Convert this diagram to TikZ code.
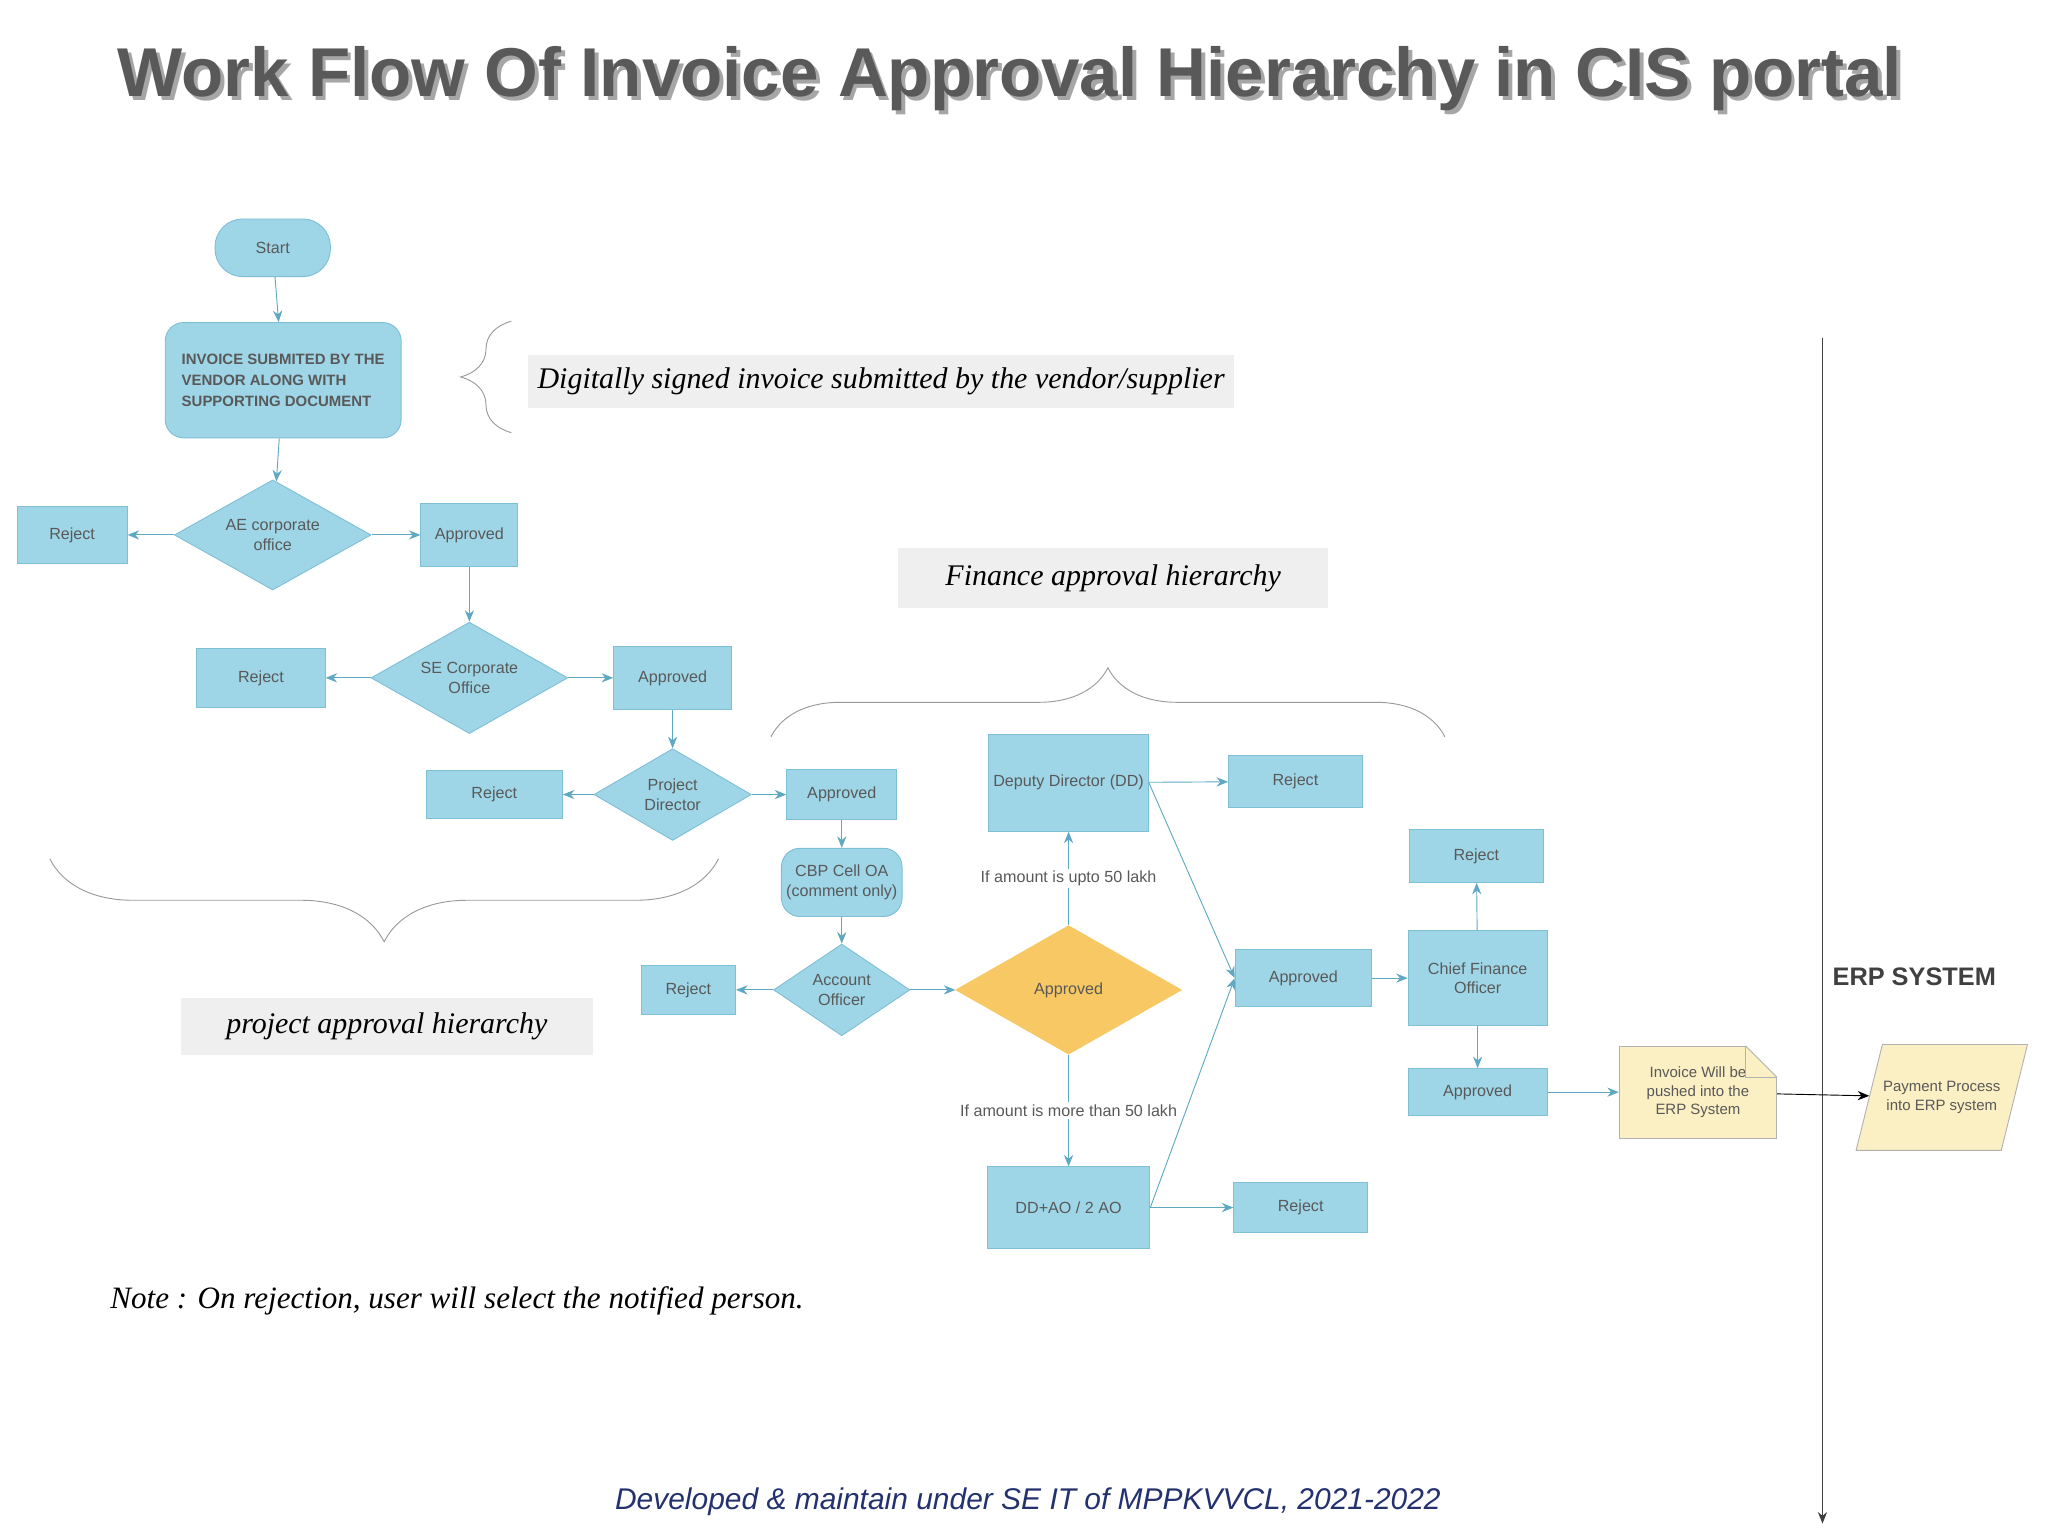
\documentclass[tikz,border=0pt]{standalone}
\usepackage{fontspec}
\setmainfont{Liberation Serif}
\newfontfamily\boxfont{Liberation Sans}
\usetikzlibrary{shapes.geometric,decorations.pathreplacing,arrows.meta,calc}
\definecolor{boxfill}{HTML}{9ED6E8}
\definecolor{boxline}{HTML}{7FBFD6}
\definecolor{arrowc}{HTML}{5FA8C2}
\definecolor{notefill}{HTML}{EFEFEF}
\definecolor{docfill}{HTML}{FBEFC4}
\definecolor{yelfill}{HTML}{F7C863}
\definecolor{footc}{HTML}{23326E}
\tikzset{>={Stealth[length=5pt,width=4pt]}}

\begin{document}
\begin{tikzpicture}[x=0.02cm,y=-0.02cm]

%% styles
\tikzstyle{box}=[draw=boxline, fill=boxfill, text=black!65, align=center, font=\boxfont\fontsize{7}{8.5}\selectfont, inner sep=2pt]
\tikzstyle{rbox}=[box, rounded corners=8pt]
\tikzstyle{dia}=[box, diamond, aspect=1.8, inner sep=1pt]
\tikzstyle{note}=[fill=notefill, font=\itshape\fontsize{13}{15}\selectfont, inner sep=4pt]
\tikzstyle{lbl}=[fill=white, font=\boxfont\fontsize{7}{8.5}\selectfont, text=black!65, inner sep=1pt]
\tikzstyle{flow}=[draw=arrowc, ->]
\tikzstyle{brc}=[draw=black!40, decorate, decoration={brace, amplitude=22pt}]

\useasboundingbox (0,0) rectangle (1562,1172);

%% title
\node[font=\boxfont\bfseries\fontsize{30}{32}\selectfont, text=black!35] at (773,63) {Work Flow Of Invoice Approval Hierarchy in CIS portal};
\node[font=\boxfont\bfseries\fontsize{30}{32}\selectfont, text=black!65] at (770,60) {Work Flow Of Invoice Approval Hierarchy in CIS portal};

%% project part
\node(S)[rbox, rounded corners=12pt, minimum width=1.76cm, minimum height=0.88cm] at (208,189) {Start};
\node(INV)[rbox, minimum width=3.6cm, minimum height=1.76cm, align=left, font=\boxfont\bfseries\fontsize{6.5}{9}\selectfont] at (216,290)
{INVOICE SUBMITED BY THE\\VENDOR ALONG WITH\\SUPPORTING DOCUMENT};
\node(AE)[dia, minimum width=3cm, minimum height=1.68cm] at (208,408) {AE corporate\\office};
\node(AER)[box, minimum width=1.68cm, minimum height=0.88cm] at (55,408) {Reject};
\node(AEA)[box, minimum width=1.48cm, minimum height=0.96cm] at (358,408) {Approved};
\node(SE)[dia, minimum width=3cm, minimum height=1.7cm] at (358,517) {SE Corporate\\Office};
\node(SER)[box, minimum width=1.96cm, minimum height=0.9cm] at (199,517) {Reject};
\node(SEA)[box, minimum width=1.8cm, minimum height=0.96cm] at (513,517) {Approved};
\node(PD)[dia, minimum width=2.4cm, minimum height=1.4cm] at (513,606) {Project\\Director};
\node(PDR)[box, minimum width=2.08cm, minimum height=0.72cm] at (377,606) {Reject};
\node(PDA)[box, minimum width=1.68cm, minimum height=0.76cm] at (642,606) {Approved};

%% finance part
\node(CBP)[rbox, minimum width=1.84cm, minimum height=1.04cm] at (642,673) {CBP Cell OA\\(comment only)};
\node(AO)[dia, minimum width=2.08cm, minimum height=1.4cm] at (642,755) {Account\\Officer};
\node(AOR)[box, minimum width=1.44cm, minimum height=0.76cm] at (525,755) {Reject};
\node(AP)[dia, fill=yelfill, draw=yelfill, minimum width=3.44cm, minimum height=1.96cm] at (815,755) {Approved};
\node(DD)[box, minimum width=2.36cm, minimum height=1.48cm] at (815,597) {Deputy Director (DD)};
\node(DDR)[box, minimum width=2.04cm, minimum height=0.8cm] at (988,596) {Reject};
\node(DA)[box, minimum width=2.48cm, minimum height=1.24cm] at (815,921) {DD+AO / 2 AO};
\node(DAR)[box, minimum width=2.04cm, minimum height=0.76cm] at (992,921) {Reject};
\node(FA)[box, minimum width=2.08cm, minimum height=0.88cm] at (994,746) {Approved};
\node(CFO)[box, minimum width=2.12cm, minimum height=1.44cm] at (1127,746) {Chief Finance\\Officer};
\node(CFR)[box, minimum width=2.04cm, minimum height=0.8cm] at (1126,653) {Reject};
\node(CFA)[box, minimum width=2.12cm, minimum height=0.72cm] at (1127,833) {Approved};

%% erp part
\node(DOC)[draw=black!30, fill=docfill, text=black!65, align=center, font=\boxfont\fontsize{6.5}{8}\selectfont, minimum width=2.4cm, minimum height=1.4cm] at (1295,833) {Invoice Will be\\pushed into the\\ERP System};
\fill[white] (DOC.north east) -- ++(-24,0) -- ++(24,24) -- cycle;
\draw[black!30] (DOC.north east) ++(-24,0) -- ++(0,24) -- ++(24,0);
\draw[black!30] (DOC.north east) ++(-24,0) -- ++(24,24);
\node(PAY)[minimum width=2.2cm, minimum height=1.6cm] at (1481,837) {};
\fill[docfill, draw=black!30] ($(PAY.north west)+(10,0)$) -- ($(PAY.north east)+(10,0)$) -- ($(PAY.south east)+(-10,0)$) -- ($(PAY.south west)+(-10,0)$) -- cycle;
\node[text=black!65, align=center, font=\boxfont\fontsize{6.5}{8}\selectfont] at (PAY) {Payment Process\\into ERP system};
\coordinate(E1) at (1390,258);
\coordinate(E2) at (1390,1162);
\draw[black!75, ->] (E1) -- (E2);
\node(ERP)[font=\boxfont\bfseries\fontsize{11}{13}\selectfont, text=black!75] at (1460,745) {ERP SYSTEM};

%% notes
\node(N1)[note, minimum width=10.72cm, minimum height=0.8cm] at (672,291) {Digitally signed invoice submitted by the vendor/supplier};
\node(N2)[note, minimum width=6.56cm, minimum height=0.92cm] at (849,441) {Finance approval hierarchy};
\node(N3)[note, minimum width=6.28cm, minimum height=0.88cm] at (295,783) {project approval hierarchy};
\node(NT)[font=\itshape\fontsize{13.5}{16}\selectfont, anchor=west] at (78,992) {Note : On rejection, user will select the notified person.};
\node(FT)[font=\boxfont\itshape\fontsize{13}{16}\selectfont, text=footc] at (784,1145) {Developed \& maintain under SE IT of MPPKVVCL, 2021-2022};

%% braces
\draw[brc] (390,330) -- (390,245);
\draw[brc, decoration={amplitude=30pt}] (588,562) -- (1102,562);
\draw[brc, decoration={amplitude=36pt}] (548,655) -- (38,655);

%% arrows
\path[flow] (S) -- (INV);
\path[flow] (INV) -- (AE);
\path[flow] (AE) -- (AER);
\path[flow] (AE) -- (AEA);
\path[flow] (AEA) -- (SE);
\path[flow] (SE) -- (SER);
\path[flow] (SE) -- (SEA);
\path[flow] (SEA) -- (PD);
\path[flow] (PD) -- (PDR);
\path[flow] (PD) -- (PDA);
\path[flow] (PDA) -- (CBP);
\path[flow] (CBP) -- (AO);
\path[flow] (AO) -- (AOR);
\path[flow] (AO) -- (AP);
\path[flow] (AP) -- node[lbl]{If amount is upto 50 lakh} (DD);
\path[flow] (AP) -- node[lbl]{If amount is more than 50 lakh} (DA);
\path[flow] (DD) -- (DDR);
\path[flow] (DA) -- (DAR);
\path[flow] (DD.east) -- (FA.west);
\path[flow] (DA.east) -- (FA.west);
\path[flow] (FA) -- (CFO);
\path[flow] (CFO) -- (CFR);
\path[flow] (CFO) -- (CFA);
\path[flow] (CFA) -- (DOC);
\path[draw=black, ->] (DOC) -- (PAY);

\end{tikzpicture}
\end{document}
